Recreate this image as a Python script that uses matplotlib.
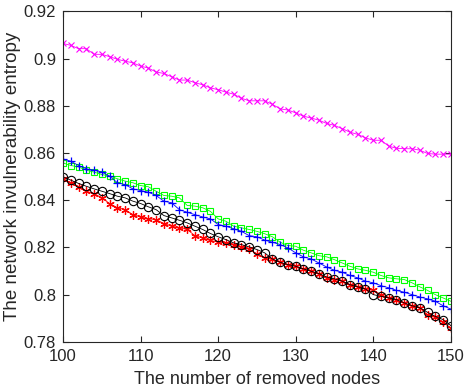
import numpy as np
import matplotlib
matplotlib.use("Agg")
import matplotlib.pyplot as plt

plt.rcParams['font.family'] = ['Liberation Sans', 'DejaVu Sans']

nodes = np.arange(100, 151)

# magenta x
s_x = [0.9064, 0.9056, 0.9042, 0.9042, 0.9018, 0.9018, 0.9008, 0.8997, 0.8989, 0.8982,
       0.8968, 0.8960, 0.8943, 0.8937, 0.8923, 0.8909, 0.8909, 0.8898, 0.8889, 0.8876,
       0.8868, 0.8858, 0.8849, 0.8832, 0.8821, 0.8821, 0.8821, 0.8806, 0.8787, 0.8782,
       0.8770, 0.8756, 0.8748, 0.8739, 0.8725, 0.8717, 0.8703, 0.8688, 0.8679, 0.8664,
       0.8654, 0.8654, 0.8629, 0.8620, 0.8618, 0.8618, 0.8612, 0.8598, 0.8595, 0.8595,
       0.8595]
# green squares
s_sq = [0.8558, 0.8547, 0.8541, 0.8527, 0.8519, 0.8509, 0.8502, 0.8491, 0.8481, 0.8474,
        0.8462, 0.8457, 0.8438, 0.8420, 0.8417, 0.8410, 0.8378, 0.8375, 0.8368, 0.8353,
        0.8321, 0.8311, 0.8290, 0.8283, 0.8276, 0.8268, 0.8258, 0.8245, 0.8222, 0.8208,
        0.8205, 0.8188, 0.8177, 0.8165, 0.8160, 0.8148, 0.8134, 0.8120, 0.8109, 0.8103,
        0.8095, 0.8081, 0.8071, 0.8067, 0.8064, 0.8050, 0.8033, 0.8018, 0.8000, 0.7986,
        0.7972]
# blue plus
s_plus = [0.8575, 0.8565, 0.8547, 0.8533, 0.8527, 0.8519, 0.8502, 0.8474, 0.8466, 0.8448,
          0.8441, 0.8434, 0.8420, 0.8396, 0.8389, 0.8360, 0.8349, 0.8339, 0.8329, 0.8321,
          0.8297, 0.8290, 0.8279, 0.8268, 0.8250, 0.8245, 0.8231, 0.8222, 0.8212, 0.8198,
          0.8177, 0.8160, 0.8151, 0.8134, 0.8117, 0.8103, 0.8095, 0.8081, 0.8071, 0.8057,
          0.8050, 0.8038, 0.8029, 0.8018, 0.8010, 0.8000, 0.7990, 0.7982, 0.7972, 0.7953,
          0.7939]
# black circles
s_o = [0.8499, 0.8485, 0.8471, 0.8459, 0.8448, 0.8438, 0.8428, 0.8417, 0.8410, 0.8396,
       0.8386, 0.8372, 0.8360, 0.8335, 0.8325, 0.8315, 0.8304, 0.8290, 0.8276, 0.8259,
       0.8245, 0.8233, 0.8219, 0.8212, 0.8202, 0.8191, 0.8177, 0.8151, 0.8137, 0.8127,
       0.8120, 0.8109, 0.8099, 0.8089, 0.8075, 0.8067, 0.8057, 0.8042, 0.8033, 0.8024,
       0.8000, 0.7993, 0.7986, 0.7979, 0.7965, 0.7953, 0.7944, 0.7925, 0.7908, 0.7894,
       0.7869]
# red stars
s_star = [0.8491, 0.8474, 0.8457, 0.8438, 0.8428, 0.8410, 0.8386, 0.8368, 0.8360, 0.8339,
          0.8329, 0.8321, 0.8318, 0.8301, 0.8290, 0.8283, 0.8276, 0.8250, 0.8240, 0.8230,
          0.8222, 0.8219, 0.8212, 0.8202, 0.8194, 0.8170, 0.8156, 0.8149, 0.8137, 0.8127,
          0.8120, 0.8109, 0.8099, 0.8089, 0.8071, 0.8064, 0.8057, 0.8042, 0.8033, 0.8024,
          0.8018, 0.8000, 0.7986, 0.7976, 0.7965, 0.7950, 0.7944, 0.7915, 0.7906, 0.7883,
          0.7859]

fig = plt.figure(figsize=(4.74, 3.92), dpi=100, facecolor="white")
ax = fig.add_axes([0.133, 0.128, 0.818, 0.843])

ax.plot(nodes, s_x, color="#ff00ff", marker="x", ms=4.5, lw=0.6, mew=0.8)
ax.plot(nodes, s_sq, color="#00ff00", marker="s", ms=5, lw=0.6, mew=0.8, mfc="none")
ax.plot(nodes, s_plus, color="#0000ff", marker="+", ms=6, lw=0.6, mew=0.9)
ax.plot(nodes, s_star, color="#ff0000", marker=(6, 2, 0), ms=6, lw=0.6, mew=0.9)
ax.plot(nodes, s_o, color="black", marker="o", ms=6, lw=0.6, mew=0.8, mfc="none")

ax.set_xlim(100, 150)
ax.set_ylim(0.78, 0.92)
ax.set_xticks([100, 110, 120, 130, 140, 150])
ax.set_yticks([0.78, 0.8, 0.82, 0.84, 0.86, 0.88, 0.9, 0.92])
ax.set_yticklabels(["0.78", "0.8", "0.82", "0.84", "0.86", "0.88", "0.9", "0.92"])
ax.tick_params(direction="in", top=True, right=True, labelsize=12, length=4,
               width=0.8, color="#262626", labelcolor="#262626")
ax.tick_params(axis="x", pad=5.5)
ax.tick_params(axis="y", pad=5)
for sp in ax.spines.values():
    sp.set_color("#262626")
    sp.set_linewidth(0.8)

ax.set_xlabel("The number of removed nodes", fontsize=13, color="#262626", labelpad=5)
ax.set_ylabel("The network invulnerability entropy", fontsize=13.5, color="#262626", labelpad=2)

fig.savefig("out.png", dpi=100)
